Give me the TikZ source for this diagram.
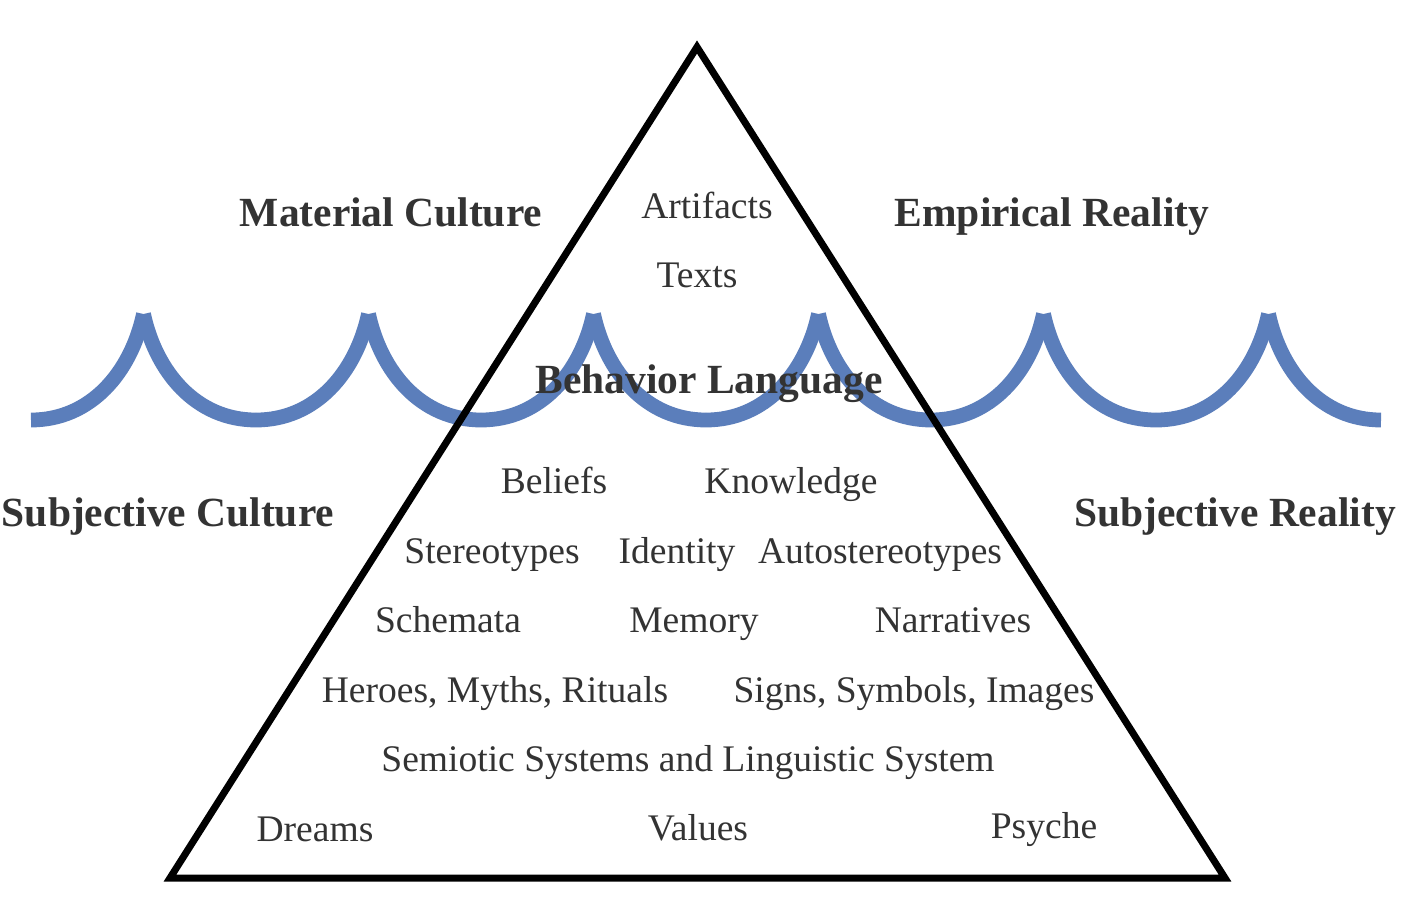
\documentclass[tikz,border=0pt]{standalone}
\usepackage{fontspec}
\setmainfont{Liberation Serif}
\definecolor{wave}{RGB}{91,126,187}
\definecolor{txt}{RGB}{51,51,51}
\begin{document}
\begin{tikzpicture}[x=0.025cm,y=-0.025cm,
  lbl/.style={font=\fontsize{26.7}{30}\selectfont,text=txt,anchor=base,inner sep=0pt},
  blbl/.style={font=\fontsize{29.5}{32}\selectfont\bfseries,text=txt,anchor=base,inner sep=0pt},
  wv/.style={draw=wave,line width=10.5pt,line cap=butt}]
\useasboundingbox (0,0) rectangle (1404,908);
% waves
\foreach \b in {31,256,481,706,931,1156}{
  \draw[wv] (\b,420) .. controls ({\b+60},420) and ({\b+100},{372}) .. ({\b+112.5},314);
}
\foreach \b in {256,481,706,931,1156,1381}{
  \draw[wv] (\b,420) .. controls ({\b-60},420) and ({\b-100},{372}) .. ({\b-112.5},314);
}
% triangle
\coordinate (A) at (697,47);
\coordinate (B) at (170,878);
\coordinate (C) at (1225,878);
\draw[line width=5pt,line join=miter] (A) -- (B) -- (C) -- cycle;
% labels
\node[blbl] (mc) at (391,226) {Material Culture};
\node[blbl] (er) at (1052,226) {Empirical Reality};
\node[blbl] (sc) at (168,526) {Subjective Culture};
\node[blbl] (sr) at (1235,526) {Subjective Reality};
\node[blbl] (bl) at (709,393) {Behavior Language};
\node[lbl] (art) at (707,218) {Artifacts};
\node[lbl] (tex) at (697,287) {Texts};
\node[lbl] (bel) at (554,493) {Beliefs};
\node[lbl] (kno) at (791,493) {Knowledge};
\node[lbl] (ste) at (492,563) {Stereotypes};
\node[lbl] (ide) at (677,563) {Identity};
\node[lbl] (aut) at (880,563) {Autostereotypes};
\node[lbl] (sch) at (448,632) {Schemata};
\node[lbl] (mem) at (694,632) {Memory};
\node[lbl] (nar) at (953,632) {Narratives};
\node[lbl] (her) at (495,702) {Heroes, Myths, Rituals};
\node[lbl] (sig) at (914,702) {Signs, Symbols, Images};
\node[lbl] (sem) at (688,771) {Semiotic Systems and Linguistic System};
\node[lbl] (dre) at (315,841) {Dreams};
\node[lbl] (val) at (698,840) {Values};
\node[lbl] (psy) at (1044,838) {Psyche};
\end{tikzpicture}
\end{document}
